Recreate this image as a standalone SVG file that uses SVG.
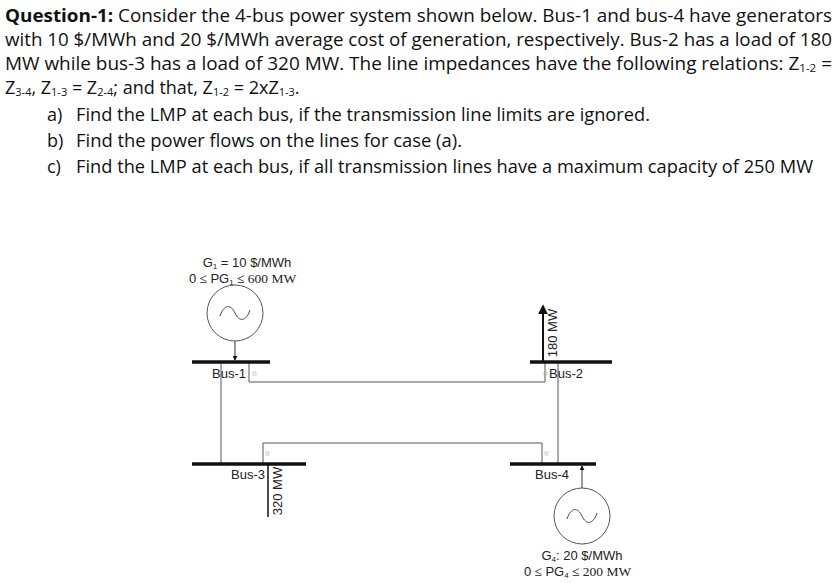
<svg xmlns="http://www.w3.org/2000/svg" width="840" height="583" viewBox="0 0 840 583">
<defs>
<style>
.q{font-family:"Open Sans","Liberation Sans",sans-serif;font-size:18px;fill:#111}
.s{font-family:"Liberation Sans",Arial,sans-serif;font-size:13px;fill:#222}
.t{font-family:"Liberation Serif",serif;font-size:13.5px;fill:#222}
.bus{stroke:#111;stroke-width:3.5}
.ln{stroke:#555;stroke-width:1;fill:none}
.g{stroke:#555;stroke-width:1;fill:#fff}
</style>
<marker id="ar" viewBox="0 0 6 6" refX="5" refY="3" markerWidth="5" markerHeight="5" orient="auto"><path d="M0,0L6,3L0,6z" fill="#111"/></marker>
</defs>
<rect width="840" height="583" fill="#fff"/>
<g id="question">
<text class="q" x="5" y="22" textLength="827" lengthAdjust="spacingAndGlyphs"><tspan font-weight="bold">Question-1:</tspan> Consider the 4-bus power system shown below. Bus-1 and bus-4 have generators</text>
<text class="q" x="5" y="46" textLength="827" lengthAdjust="spacingAndGlyphs">with 10 $/MWh and 20 $/MWh average cost of generation, respectively. Bus-2 has a load of 180</text>
<text class="q" x="5" y="70" textLength="827" lengthAdjust="spacingAndGlyphs">MW while bus-3 has a load of 320 MW. The line impedances have the following relations: Z<tspan font-size="11" dy="2">1-2</tspan><tspan dy="-2"> =</tspan></text>
<text class="q" x="5" y="94">Z<tspan font-size="11" dy="2">3-4</tspan><tspan dy="-2">, Z</tspan><tspan font-size="11" dy="2">1-3</tspan><tspan dy="-2"> = Z</tspan><tspan font-size="11" dy="2">2-4</tspan><tspan dy="-2">; and that, Z</tspan><tspan font-size="11" dy="2">1-2</tspan><tspan dy="-2"> = 2xZ</tspan><tspan font-size="11" dy="2">1-3</tspan><tspan dy="-2">.</tspan></text>
<text class="q" x="47" y="121">a)</text><text class="q" x="76" y="121" textLength="574" lengthAdjust="spacingAndGlyphs">Find the LMP at each bus, if the transmission line limits are ignored.</text>
<text class="q" x="47" y="147">b)</text><text class="q" x="76" y="147" textLength="386" lengthAdjust="spacingAndGlyphs">Find the power flows on the lines for case (a).</text>
<text class="q" x="47" y="173">c)</text><text class="q" x="76" y="173" textLength="737" lengthAdjust="spacingAndGlyphs">Find the LMP at each bus, if all transmission lines have a maximum capacity of 250 MW</text>
</g>
<g id="connectors">
<polyline class="ln" points="249,362 249,382 545,382 545,362"/>
<line class="ln" x1="221" y1="362" x2="221" y2="464"/>
<line class="ln" x1="558" y1="362" x2="558" y2="464"/>
<polyline class="ln" points="263,464 263,443 542,443 542,464"/>
</g>
<g id="bus1">
<line class="bus" x1="192" y1="362" x2="270" y2="362"/>
<text class="s" x="212" y="378">Bus-1</text>
<rect x="253" y="372" width="3" height="3" fill="none" stroke="#aaa" stroke-width="0.6"/>
</g>
<g id="gen1">
<text class="s" x="247" y="267" text-anchor="middle">G<tspan font-size="8" dy="2">1</tspan><tspan dy="-2"> = 10 $/MWh</tspan></text>
<text x="189" y="283"><tspan class="s">0</tspan><tspan class="t"> ≤ </tspan><tspan class="s">PG<tspan font-size="8" dy="2">1</tspan></tspan><tspan class="t" dy="-2"> ≤ 600 MW</tspan></text>
<circle class="g" cx="235" cy="313" r="28"/>
<path d="M220,316 C224,304 231,304 235,313 C239,322 246,322 250,310" fill="none" stroke="#444" stroke-width="1"/>
<line x1="235" y1="341" x2="235" y2="360" stroke="#333" stroke-width="1" marker-end="url(#ar)"/>
</g>
<g id="bus2">
<line class="bus" x1="530" y1="362" x2="612" y2="362"/>
<line x1="543" y1="362" x2="543" y2="306" stroke="#111" stroke-width="2" marker-end="url(#ar)"/>
<text class="s" transform="translate(557,333) rotate(-90)" text-anchor="middle">180 MW</text>
<text class="s" x="549" y="378">Bus-2</text>
<rect x="544" y="372" width="3" height="3" fill="none" stroke="#aaa" stroke-width="0.6"/>
</g>
<g id="bus3">
<line class="bus" x1="192" y1="464" x2="306" y2="464"/>
<text class="s" x="231" y="479">Bus-3</text>
<line x1="268" y1="464" x2="268" y2="517" stroke="#111" stroke-width="1.5"/>
<text class="s" transform="translate(282,491) rotate(-90)" text-anchor="middle">320 MW</text>
<rect x="266" y="452" width="3" height="3" fill="none" stroke="#aaa" stroke-width="0.6"/>
</g>
<g id="bus4">
<line class="bus" x1="510" y1="464" x2="596" y2="464"/>
<text class="s" x="535" y="479">Bus-4</text>
<rect x="545" y="452" width="3" height="3" fill="none" stroke="#aaa" stroke-width="0.6"/>
</g>
<g id="gen4">
<circle class="g" cx="582" cy="516" r="28"/>
<path d="M567,519 C571,507 578,507 582,516 C586,525 593,525 597,513" fill="none" stroke="#444" stroke-width="1"/>
<line x1="582" y1="488" x2="582" y2="466" stroke="#333" stroke-width="1" marker-end="url(#ar)"/>
<text class="s" x="582" y="560" text-anchor="middle">G<tspan font-size="8" dy="2">4</tspan><tspan dy="-2">: 20 $/MWh</tspan></text>
<text x="524" y="576"><tspan class="s">0</tspan><tspan class="t"> ≤ </tspan><tspan class="s">PG<tspan font-size="8" dy="2">4</tspan></tspan><tspan class="t" dy="-2"> ≤ 200 MW</tspan></text>
</g>
</svg>
